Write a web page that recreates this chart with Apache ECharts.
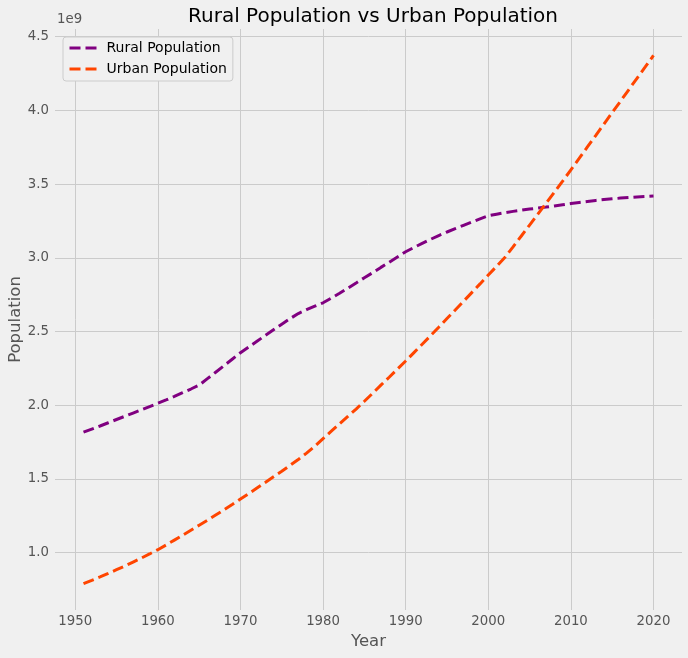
<!DOCTYPE html>
<html>
<head>
<meta charset="utf-8">
<title>Rural Population vs Urban Population</title>
<script src="https://cdn.jsdelivr.net/npm/echarts@6/dist/echarts.min.js"></script>
<style>
  html, body { margin: 0; padding: 0; background: #f0f0f0; }
  #chart { width: 688px; height: 658px; }
</style>
</head>
<body>
<div id="chart"></div>
<script>
// Data (population in billions)
const years = [];
for (let y = 1951; y <= 2020; y++) years.push(y);

const rural = [
  1.817, 1.838, 1.859, 1.881, 1.903, 1.925, 1.947, 1.969, 1.991, 2.013,
  2.036, 2.060, 2.085, 2.110, 2.136, 2.180, 2.224, 2.268, 2.312, 2.356,
  2.395, 2.434, 2.473, 2.512, 2.550, 2.587, 2.622, 2.648, 2.672, 2.695,
  2.727, 2.760, 2.794, 2.829, 2.865, 2.899, 2.935, 2.970, 3.006, 3.041,
  3.070, 3.098, 3.125, 3.151, 3.175, 3.198, 3.220, 3.242, 3.264, 3.285,
  3.296, 3.306, 3.315, 3.323, 3.331, 3.337, 3.344, 3.352, 3.360, 3.368,
  3.375, 3.382, 3.389, 3.395, 3.400, 3.405, 3.409, 3.413, 3.416, 3.419
];

const urban = [
  0.790, 0.812, 0.835, 0.859, 0.884, 0.909, 0.936, 0.963, 0.991, 1.020,
  1.052, 1.085, 1.118, 1.152, 1.186, 1.220, 1.255, 1.290, 1.326, 1.363,
  1.400, 1.438, 1.476, 1.515, 1.552, 1.592, 1.632, 1.675, 1.722, 1.774,
  1.824, 1.874, 1.924, 1.974, 2.027, 2.081, 2.136, 2.190, 2.245, 2.300,
  2.357, 2.414, 2.471, 2.529, 2.588, 2.646, 2.705, 2.764, 2.823, 2.883,
  2.942, 3.002, 3.074, 3.148, 3.222, 3.296, 3.370, 3.445, 3.520, 3.597,
  3.674, 3.752, 3.829, 3.907, 3.985, 4.062, 4.140, 4.218, 4.295, 4.373
];

const SCALE = 1e9;
const font = 'DejaVu Sans';
const dash = [11, 5];

// matplotlib-like 5% margins
const xMin = 1951 - 0.05 * (2020 - 1951);
const xMax = 2020 + 0.05 * (2020 - 1951);
const allVals = rural.concat(urban);
const vMin = Math.min(...allVals), vMax = Math.max(...allVals);
const yMin = (vMin - 0.05 * (vMax - vMin)) * SCALE;
const yMax = (vMax + 0.05 * (vMax - vMin)) * SCALE;

const chart = echarts.init(document.getElementById('chart'));
const option = {
  backgroundColor: '#f0f0f0',
  animation: false,
  textStyle: { fontFamily: font },
  title: {
    text: 'Rural Population vs Urban Population',
    left: 368,
    top: 2,
    textAlign: 'center',
    textStyle: { fontFamily: font, fontSize: 20, fontWeight: 'normal', color: '#000' }
  },
  legend: {
    orient: 'vertical',
    left: 63,
    top: 37,
    padding: [4, 6, 5, 5],
    itemWidth: 29,
    itemHeight: 14,
    itemGap: 7,
    backgroundColor: '#f0f0f0',
    borderColor: '#cccccc',
    borderWidth: 1,
    borderRadius: 3,
    itemStyle: { opacity: 0 },
    textStyle: { fontFamily: font, fontSize: 14, color: '#000', padding: [0, 0, 0, 3] },
    data: [
      { name: 'Rural Population', lineStyle: { color: '#800080', width: 3, type: dash } },
      { name: 'Urban Population', lineStyle: { color: '#ff4500', width: 3, type: dash } }
    ]
  },
  graphic: [{
    type: 'text',
    left: 57,
    top: 13,
    style: { text: '1e9', font: '13.3px "DejaVu Sans"', fill: '#555555' }
  }],
  grid: { left: 55, right: 6, top: 29, bottom: 48, containLabel: false, outerBoundsMode: 'none' },
  xAxis: {
    type: 'value',
    min: xMin,
    max: xMax,
    splitNumber: 8,
    name: 'Year',
    nameLocation: 'middle',
    nameGap: 23,
    nameMoveOverlap: false,
    nameTextStyle: { fontFamily: font, fontSize: 16.5, color: '#555555' },
    axisLine: { show: false },
    axisTick: { show: false },
    axisLabel: {
      margin: 5,
      fontFamily: font,
      fontSize: 13.3,
      color: '#555555',
      showMinLabel: false,
      showMaxLabel: false,
      formatter: v => (Math.abs(v % 10) < 1e-6 ? String(v) : '')
    },
    splitLine: { show: true, showMinLine: false, showMaxLine: false, lineStyle: { color: '#cbcbcb', width: 1 } }
  },
  yAxis: {
    type: 'value',
    min: yMin,
    max: yMax,
    splitNumber: 8,
    name: 'Population',
    nameLocation: 'middle',
    nameGap: 31,
    nameMoveOverlap: false,
    nameTextStyle: { fontFamily: font, fontSize: 16.5, color: '#555555' },
    axisLine: { show: false },
    axisTick: { show: false },
    axisLabel: {
      margin: 6,
      fontFamily: font,
      fontSize: 13.3,
      color: '#555555',
      showMinLabel: false,
      showMaxLabel: false,
      formatter: v => {
        const b = v / SCALE;
        return Math.abs(b * 2 - Math.round(b * 2)) < 1e-6 ? b.toFixed(1) : '';
      }
    },
    splitLine: { show: true, showMinLine: false, showMaxLine: false, lineStyle: { color: '#cbcbcb', width: 1 } }
  },
  series: [
    {
      name: 'Rural Population',
      type: 'line',
      showSymbol: false,
      symbol: 'none',
      color: '#800080',
      lineStyle: { color: '#800080', width: 3, type: dash, cap: 'butt' },
      data: years.map((y, i) => [y, rural[i] * SCALE])
    },
    {
      name: 'Urban Population',
      type: 'line',
      showSymbol: false,
      symbol: 'none',
      color: '#ff4500',
      lineStyle: { color: '#ff4500', width: 3, type: dash, cap: 'butt' },
      data: years.map((y, i) => [y, urban[i] * SCALE])
    }
  ]
};
chart.setOption(option);
</script>
</body>
</html>
